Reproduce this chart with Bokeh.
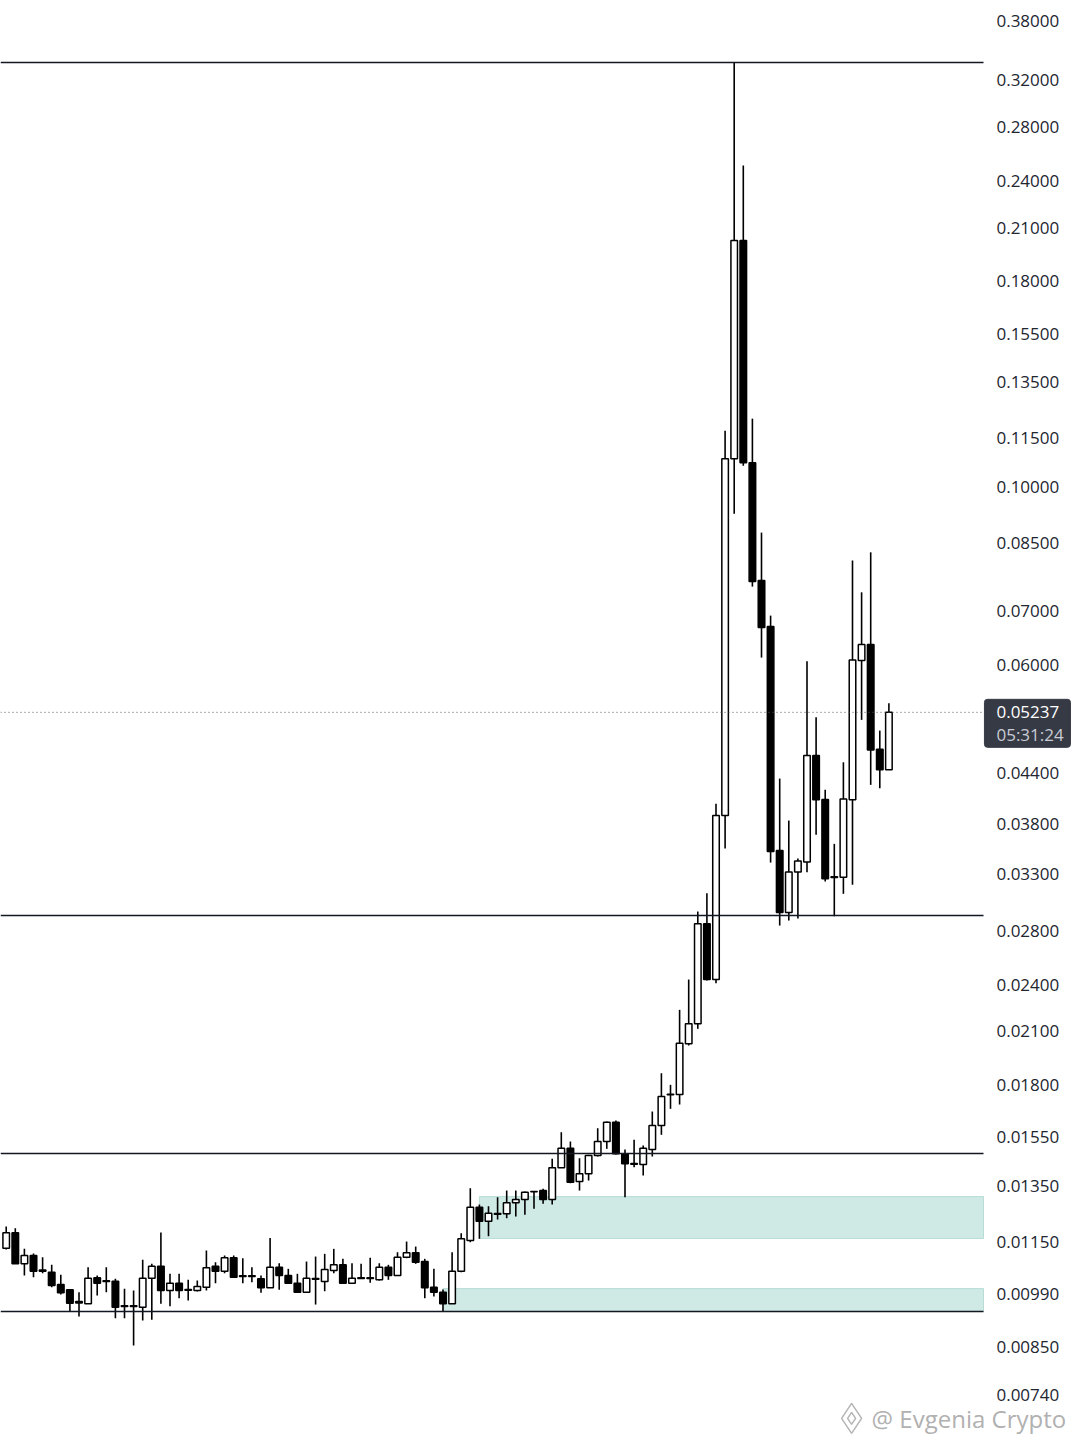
from bokeh.plotting import figure
from bokeh.models import Range1d
from bokeh.embed import file_html
from bokeh.resources import INLINE
from bokeh.core.properties import value

# ---- data ----
opens = [0.011281, 0.011790, 0.010789, 0.011048, 0.010599, 0.010532, 0.010167, 0.010014, 0.009684, 0.009621,
         0.010365, 0.010275, 0.010264, 0.009565, 0.009565, 0.009527, 0.010353, 0.010714, 0.009994, 0.010205,
         0.010023, 0.009994, 0.010089, 0.010714, 0.010562, 0.010975, 0.010424, 0.010424, 0.010335, 0.010072,
         0.010684, 0.010433, 0.010205, 0.009945, 0.010344, 0.010255, 0.010583, 0.010758, 0.010205, 0.010365,
         0.010365, 0.010305, 0.010684, 0.010433, 0.010994, 0.011134, 0.010860, 0.010089, 0.009945, 0.009621,
         0.010562, 0.011533, 0.012688, 0.012189, 0.012461, 0.012450, 0.012848, 0.012970, 0.013260, 0.013309,
         0.012970, 0.014203, 0.015024, 0.013657, 0.013962, 0.014713, 0.015315, 0.016186, 0.014785, 0.014380,
         0.014339, 0.014968, 0.016033, 0.017507, 0.017522, 0.020262, 0.021457, 0.028573, 0.024359, 0.038964,
         0.10832, 0.20234, 0.107083, 0.076375, 0.066949, 0.035247, 0.029512, 0.033143, 0.034105, 0.046269,
         0.040791, 0.032690, 0.032652, 0.040756, 0.060737, 0.063586, 0.047111, 0.044413]
highs = [0.012005, 0.011947, 0.011262, 0.011111, 0.010994, 0.010758, 0.010454, 0.010023, 0.009945, 0.010684,
         0.010433, 0.010684, 0.010335, 0.010043, 0.009994, 0.010913, 0.010789, 0.011800, 0.010484, 0.010484,
         0.010305, 0.010285, 0.011207, 0.010838, 0.011048, 0.011048, 0.010963, 0.010684, 0.010433, 0.011620,
         0.010807, 0.010635, 0.010484, 0.010860, 0.011016, 0.011102, 0.011262, 0.010944, 0.010807, 0.010789,
         0.010975, 0.010807, 0.010758, 0.011153, 0.011500, 0.011336, 0.010944, 0.010635, 0.010023, 0.011153,
         0.011777, 0.013397, 0.012786, 0.012724, 0.013056, 0.013309, 0.013309, 0.013271, 0.013282, 0.013374,
         0.014575, 0.015729, 0.015315, 0.014600, 0.014743, 0.015910, 0.016218, 0.016265, 0.014968, 0.015390,
         0.015141, 0.016689, 0.018625, 0.018016, 0.022333, 0.024359, 0.029597, 0.031190, 0.040292, 0.117361,
         0.33688, 0.25086, 0.121464, 0.087631, 0.069091, 0.043320, 0.038410, 0.034449, 0.060615, 0.051633,
         0.041940, 0.035930, 0.045390, 0.080878, 0.073859, 0.082824, 0.049703, 0.053745]
lows = [0.011239, 0.010783, 0.010433, 0.010382, 0.010502, 0.010089, 0.009880, 0.009410, 0.009277, 0.009615,
        0.009852, 0.009945, 0.009232, 0.009232, 0.008538, 0.009171, 0.009190, 0.009621, 0.009554, 0.009776,
        0.009712, 0.009965, 0.009994, 0.010205, 0.010502, 0.010365, 0.010205, 0.010235, 0.009928, 0.010066,
        0.010014, 0.010188, 0.009928, 0.009937, 0.009601, 0.009974, 0.010502, 0.010188, 0.010188, 0.010335,
        0.010217, 0.010285, 0.010305, 0.010418, 0.010963, 0.010789, 0.009776, 0.009824, 0.009410, 0.009615,
        0.010532, 0.011477, 0.011590, 0.011676, 0.012248, 0.012294, 0.012354, 0.012415, 0.012630, 0.012812,
        0.012786, 0.014195, 0.013591, 0.013309, 0.013696, 0.014671, 0.014998, 0.014756, 0.013056, 0.014228,
        0.013894, 0.014671, 0.015612, 0.016819, 0.017028, 0.020163, 0.021151, 0.024289, 0.024102, 0.035449,
        0.092531, 0.106166, 0.075074, 0.061261, 0.034056, 0.028433, 0.028844, 0.029009, 0.033124, 0.036868,
        0.032253, 0.029201, 0.031137, 0.031950, 0.051250, 0.042544, 0.042133, 0.044400]
closes = [0.011790, 0.010789, 0.011048, 0.010562, 0.010559, 0.010138, 0.009928, 0.009637, 0.009643, 0.010353,
          0.010205, 0.010255, 0.009527, 0.009546, 0.009546, 0.010353, 0.010714, 0.009994, 0.010205, 0.009994,
          0.010003, 0.010109, 0.010665, 0.010562, 0.010975, 0.010382, 0.010403, 0.010403, 0.010072, 0.010684,
          0.010433, 0.010205, 0.009945, 0.010353, 0.010323, 0.010614, 0.010758, 0.010205, 0.010353, 0.010344,
          0.010344, 0.010684, 0.010433, 0.010994, 0.011134, 0.010838, 0.010072, 0.009945, 0.009621, 0.010562,
          0.011590, 0.012688, 0.012189, 0.012472, 0.012436, 0.012848, 0.012970, 0.013245, 0.013271, 0.012970,
          0.014203, 0.015024, 0.013630, 0.013962, 0.014713, 0.015315, 0.016186, 0.014785, 0.014367, 0.014351,
          0.015024, 0.016033, 0.017422, 0.017537, 0.020296, 0.021457, 0.028573, 0.024359, 0.038964, 0.108317,
          0.20234, 0.107083, 0.076157, 0.066758, 0.035146, 0.029512, 0.033143, 0.034203, 0.046269, 0.040756,
          0.032503, 0.032624, 0.040850, 0.060858, 0.063586, 0.047030, 0.044413, 0.05237]

level_prices = [0.3369, 0.02926, 0.01480, 0.00941]
zone_start = [52, 48]          # candle index where each zone begins
zone_bottom = [0.01160, 0.00941]
zone_top = [0.01308, 0.01005]

tick_values = [0.38, 0.32, 0.28, 0.24, 0.21, 0.18, 0.155, 0.135, 0.115, 0.10, 0.085, 0.07,
               0.06, 0.044, 0.038, 0.033, 0.028, 0.024, 0.021, 0.018, 0.0155, 0.0135,
               0.0115, 0.0099, 0.0085, 0.0074]
countdown = "05:31:24"
watermark = "@ Evgenia Crypto"

# ---- layout constants (index units horizontally, 9.1 px per candle) ----
X_START, X_END = -0.6264, 117.176       # canvas edges
CHART_RIGHT = 107.396                   # right edge of the price pane
LABEL_X = 108.82                        # left edge of the price-scale labels
BOX_L, BOX_R = 107.50, 116.95           # current-price box
Y_BOTTOM, Y_TOP = 0.0066167, 0.402412
PX = 10 ** (1 / 803.8)                  # price factor per vertical pixel
FONT = "Open Sans"

idx = list(range(len(opens)))
up = [i for i in idx if closes[i] >= opens[i]]
dn = [i for i in idx if closes[i] < opens[i]]

p = figure(width=1072, height=1434, y_axis_type="log", x_axis_location=None, y_axis_location=None,
           x_range=Range1d(X_START, X_END), y_range=Range1d(Y_BOTTOM, Y_TOP),
           output_backend="svg", toolbar_location=None,
           min_border_left=0, min_border_top=0, min_border_bottom=0, min_border_right=0)
p.grid.visible = False
p.outline_line_color = None
p.background_fill_color = "white"
p.border_fill_color = "white"

# zones (under candles)
p.quad(left=zone_start, right=[CHART_RIGHT] * len(zone_start), bottom=zone_bottom, top=zone_top,
       fill_color="#cfe9e5", line_color="#b8ddd8", line_width=1)

# candles
p.segment(x0=idx, y0=lows, x1=idx, y1=highs, line_color="black", line_width=1.6)
p.vbar(x=up, width=0.72, bottom=[opens[i] for i in up], top=[closes[i] for i in up],
       fill_color="white", line_color="black", line_width=1.5)
p.vbar(x=dn, width=0.72, bottom=[closes[i] for i in dn], top=[opens[i] for i in dn],
       fill_color="black", line_color="black", line_width=1.5)

# horizontal levels and current-price line
n_lv = len(level_prices)
p.segment(x0=[X_START] * n_lv, x1=[CHART_RIGHT] * n_lv, y0=level_prices, y1=level_prices,
          line_color="#131722", line_width=1.5)
last = closes[-1]
p.segment(x0=[X_START], x1=[CHART_RIGHT], y0=[last], y1=[last],
          line_color="#555555", line_width=1, line_dash="1 3")

# price scale labels
p.text(x=[LABEL_X] * len(tick_values), y=tick_values, text=["%.5f" % v for v in tick_values],
       text_align="left", text_baseline="middle", text_font=value(FONT),
       text_font_size="17px", text_color="#222631")

# current price box
p.quad(left=[BOX_L], right=[BOX_R], top=[last * PX ** 13], bottom=[last / PX ** 35],
       fill_color="#363a45", line_color="#363a45", border_radius=3)
p.text(x=[LABEL_X], y=[last], text=["%.5f" % last], text_align="left", text_baseline="middle",
       text_font=value(FONT), text_font_size="17px", text_color="#ffffff")
p.text(x=[LABEL_X], y=[last / PX ** 22], text=[countdown], text_align="left", text_baseline="middle",
       text_font=value(FONT), text_font_size="17px", text_color="#c9ccd4")

# watermark
wm_y = 0.00693
p.text(x=[95.1], y=[wm_y], text=[watermark], text_align="left", text_baseline="middle",
       text_font=value(FONT), text_font_size="24px", text_color="#a6a6a6", text_alpha=0.9)
p.scatter(x=[92.9], y=[wm_y], marker="diamond", size=30, fill_color=None,
          line_color="#b5b5b5", line_width=1.5)
p.scatter(x=[92.9], y=[wm_y], marker="diamond", size=12, fill_color=None,
          line_color="#b5b5b5", line_width=1.5)

open("out.html", "w").write(file_html(p, INLINE))
